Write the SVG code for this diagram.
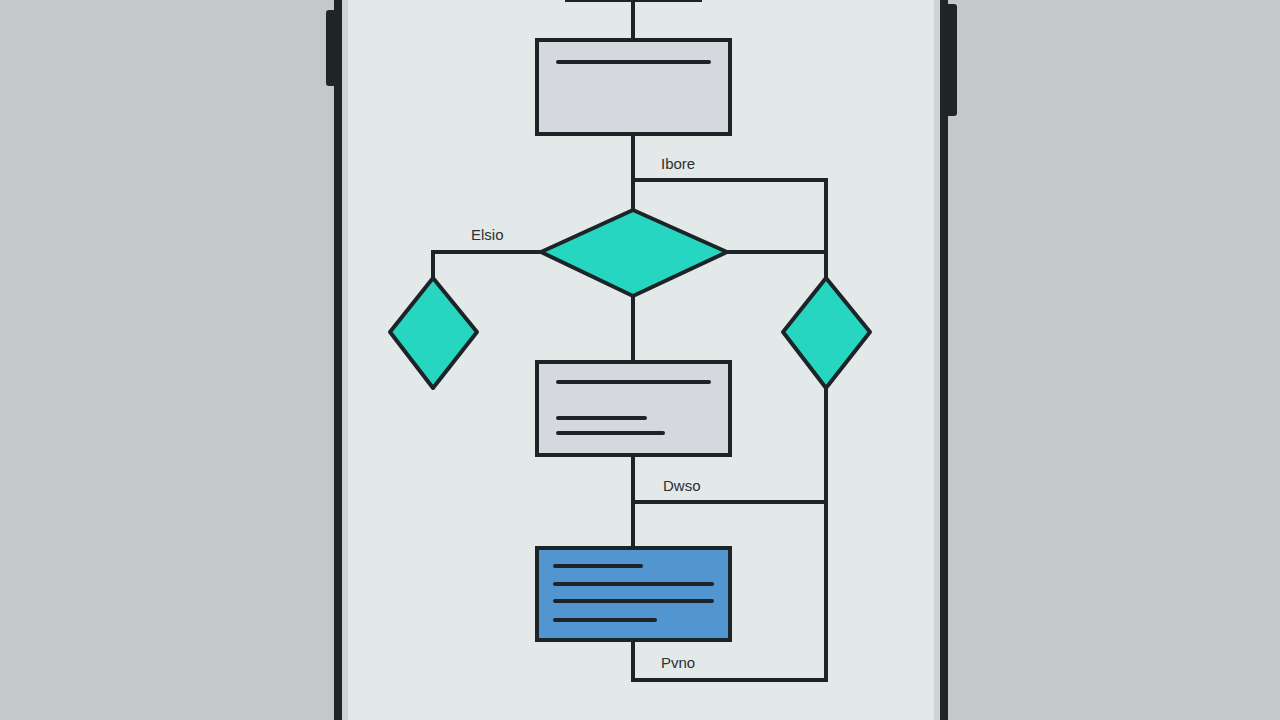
<svg xmlns="http://www.w3.org/2000/svg" width="1280" height="720" viewBox="0 0 1280 720">
<style>
.ln{fill:none;stroke:#1d2428;stroke-width:4;stroke-linecap:square;stroke-linejoin:miter}
.box{stroke:#1d2428;stroke-width:4}
.bar{stroke:#1d2428;stroke-width:4;stroke-linecap:round}
.dia{fill:#26d6c0;stroke:#1d2428;stroke-width:4;stroke-linejoin:round}
.lbl{font-family:"Liberation Sans",Arial,sans-serif;font-size:15px;fill:#2b3034}
</style>
<rect width="1280" height="720" fill="#c4c8cb"/>
<g id="phone">
<rect x="326" y="10" width="10" height="76" rx="3" fill="#1f2527"/>
<rect x="946" y="4" width="11" height="112" rx="3" fill="#1f2527"/>
<rect x="334" y="-20" width="614" height="760" fill="#cfd3d5"/>
<rect x="334" y="-20" width="8" height="760" fill="#1f2527"/>
<rect x="940" y="-20" width="8" height="760" fill="#1f2527"/>
<rect x="348" y="-20" width="586" height="760" fill="#e3e8e9"/>
</g>
<g id="connectors">
<path class="ln" d="M633 0 V40"/>
<path class="ln" d="M633 134 V210"/>
<path class="ln" d="M633 180 H826 V278"/>
<path class="ln" d="M727 252 H826"/>
<path class="ln" d="M541 252 H433 V278"/>
<path class="ln" d="M633 296 V362"/>
<path class="ln" d="M633 455 V548"/>
<path class="ln" d="M633 502 H826"/>
<path class="ln" d="M633 640 V680 H826 V388"/>
</g>
<g id="top-box">
<path class="ln" d="M567 -2 V0 H700 V-2"/>
</g>
<g id="box1">
<rect class="box" x="537" y="40" width="193" height="94" fill="#d5d8dc"/>
<line class="bar" x1="558" y1="62" x2="709" y2="62"/>
</g>
<g id="label-ibore"><text class="lbl" x="661" y="169">Ibore</text></g>
<g id="decision-main"><polygon class="dia" points="633,210 727,252 633,296 541,252"/></g>
<g id="label-elsio"><text class="lbl" x="471" y="240">Elsio</text></g>
<g id="decision-left"><polygon class="dia" points="433,278 477,332 433,388 390,332"/></g>
<g id="decision-right"><polygon class="dia" points="826,278 870,332 826,388 783,332"/></g>
<g id="box2">
<rect class="box" x="537" y="362" width="193" height="93" fill="#d5d8dc"/>
<line class="bar" x1="558" y1="382" x2="709" y2="382"/>
<line class="bar" x1="558" y1="418" x2="645" y2="418"/>
<line class="bar" x1="558" y1="433" x2="663" y2="433"/>
</g>
<g id="label-dwso"><text class="lbl" x="663" y="491">Dwso</text></g>
<g id="box3">
<rect class="box" x="537" y="548" width="193" height="92" fill="#5196d0"/>
<line class="bar" x1="555" y1="566" x2="641" y2="566"/>
<line class="bar" x1="555" y1="584" x2="712" y2="584"/>
<line class="bar" x1="555" y1="601" x2="712" y2="601"/>
<line class="bar" x1="555" y1="620" x2="655" y2="620"/>
</g>
<g id="label-pvno"><text class="lbl" x="661" y="668">Pvno</text></g>
</svg>
